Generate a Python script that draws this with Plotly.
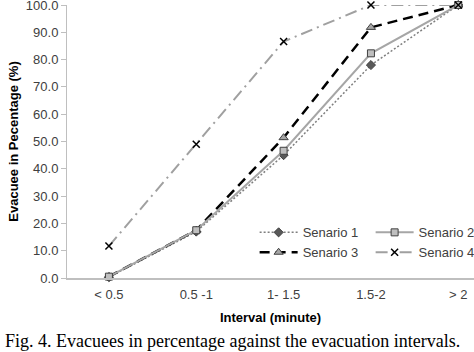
import plotly.graph_objects as go

categories = ["< 0.5", "0.5 -1", "1- 1.5", "1.5-2", "> 2"]
senario1 = [0.3, 17.0, 45.0, 78.0, 100.0]
senario2 = [0.5, 17.5, 46.6, 82.3, 100.0]
senario3 = [0.5, 17.5, 51.4, 91.8, 100.0]
senario4 = [11.7, 49.0, 86.6, 100.0, 100.0]
yticks = [0, 10, 20, 30, 40, 50, 60, 70, 80, 90, 100]

fig = go.Figure()
fig.add_trace(go.Scatter(x=categories, y=senario1, name="Senario 1", legend="legend",
    mode="lines+markers", cliponaxis=False,
    line=dict(color="#7f7f7f", width=1.5, dash="2px,2px"),
    marker=dict(symbol="diamond", size=7, color="#595959", line=dict(color="#404040", width=1))))
fig.add_trace(go.Scatter(x=categories, y=senario3, name="Senario 3", legend="legend",
    mode="lines+markers", cliponaxis=False,
    line=dict(color="#000000", width=2.5, dash="10px,6px"),
    marker=dict(symbol="triangle-up", size=8, color="#a6a6a6", line=dict(color="#404040", width=1))))
fig.add_trace(go.Scatter(x=categories, y=senario2, name="Senario 2", legend="legend2",
    mode="lines+markers", cliponaxis=False,
    line=dict(color="#a6a6a6", width=2),
    marker=dict(symbol="square", size=7, color="#bfbfbf", line=dict(color="#404040", width=1))))
fig.add_trace(go.Scatter(x=categories, y=senario4, name="Senario 4", legend="legend2",
    mode="lines+markers", cliponaxis=False,
    line=dict(color="#a0a0a0", width=2, dash="12px,5px,2px,5px"),
    marker=dict(symbol="x-thin", size=7, color="#000000", line=dict(color="#000000", width=1.5))))

legend_common = dict(font=dict(family="Liberation Sans", size=13, color="#404040"),
                     bgcolor="rgba(0,0,0,0)", itemwidth=38, tracegroupgap=0,
                     yanchor="top", xanchor="left", orientation="v")

fig.update_layout(
    width=474, height=352,
    margin=dict(l=67, r=0, t=5, b=74, autoexpand=False),
    plot_bgcolor="white", paper_bgcolor="white",
    showlegend=True,
    legend=dict(x=0.461, y=0.222, **legend_common),
    legend2=dict(x=0.746, y=0.222, **legend_common),
    xaxis=dict(type="category", range=[-0.48, 4.18], showgrid=False, zeroline=False,
               automargin=False,
               showline=True, linecolor="#bfbfbf", linewidth=2, ticks="",
               ticklabelstandoff=3,
               tickfont=dict(family="Liberation Sans", size=13, color="#404040"),
               title=dict(text="<b>Interval (minute)</b>", standoff=12,
                          font=dict(family="Liberation Sans", size=13, color="#000000"))),
    yaxis=dict(range=[0, 100], tickvals=yticks, tickformat=".1f", showgrid=False,
               automargin=False,
               zeroline=False, showline=True, linecolor="#bfbfbf", linewidth=1,
               ticks="outside", ticklen=5, tickcolor="#bfbfbf", ticklabeloverflow="allow",
               tickfont=dict(family="Liberation Sans", size=13, color="#404040"),
               title=dict(text="<b>Evacuee in Pecentage (%)</b>", standoff=4,
                          font=dict(family="Liberation Sans", size=13, color="#000000"))),
)

fig.add_annotation(text="Fig. 4. Evacuees in percentage against the evacuation intervals.",
                   xref="paper", yref="paper", x=-67/407, y=-75/273,
                   xanchor="left", yanchor="bottom", showarrow=False, xshift=3,
                   font=dict(family="Liberation Serif", size=18, color="#000000"))

fig.write_html("out.html")
